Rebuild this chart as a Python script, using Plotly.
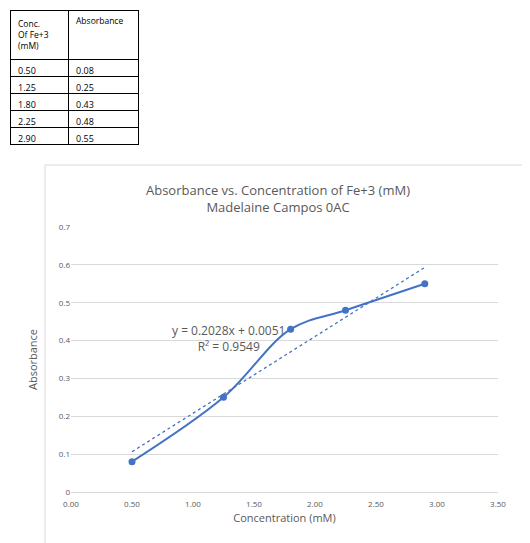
import plotly.graph_objects as go

conc = [0.50, 1.25, 1.80, 2.25, 2.90]
absorb = [0.08, 0.25, 0.43, 0.48, 0.55]
conc_labels = ["0.50", "1.25", "1.80", "2.25", "2.90"]
abs_labels = ["0.08", "0.25", "0.43", "0.48", "0.55"]
slope, intercept = 0.2028, 0.0051

W, H = 530, 543
px_x = lambda p: p / W
px_y = lambda p: 1 - p / H

fig = go.Figure()

fig.add_trace(go.Table(
    domain=dict(x=[px_x(2), px_x(130)], y=[px_y(155), px_y(2)]),
    columnwidth=[58, 70],
    header=dict(values=["Conc.<br>Of Fe+3<br>(mM)", "Absorbance"],
                align="left", height=14, fill_color="white",
                line_color="black", font=dict(size=8.5, color="black")),
    cells=dict(values=[conc_labels, abs_labels], align="left", height=17,
               fill_color="white", line_color="black",
               font=dict(size=9, color="black")),
))

fig.add_trace(go.Scatter(
    x=conc, y=absorb, mode="lines+markers", line_shape="spline",
    line=dict(color="#4472C4", width=2, smoothing=1),
    marker=dict(color="#4472C4", size=7), showlegend=False))

tx = [conc[0], conc[-1]]
fig.add_trace(go.Scatter(
    x=tx, y=[slope * v + intercept for v in tx], mode="lines",
    line=dict(color="#4472C4", width=1.3, dash="dot"), showlegend=False))

grid = "#D9D9D9"
fig.update_xaxes(domain=[px_x(63), px_x(490)], range=[0, 3.5], dtick=0.5,
                 tickformat=".2f", showgrid=False, showline=True,
                 linecolor=grid, ticks="", zeroline=False, automargin=False,
                 ticklabelstandoff=4,
                 tickfont=dict(size=8, color="#595959"),
                 title=dict(text="Concentration (mM)",
                            font=dict(size=11, color="#595959"), standoff=6))
fig.update_yaxes(domain=[px_y(484), px_y(219)], range=[0, 0.7], dtick=0.1,
                 showgrid=True, gridcolor=grid, zeroline=False, ticks="",
                 automargin=False,
                 tickfont=dict(size=8, color="#595959"),
                 title=dict(text="Absorbance",
                            font=dict(size=11, color="#595959"), standoff=18))

fig.update_layout(
    width=W, height=H, margin=dict(l=0, r=0, t=0, b=0),
    plot_bgcolor="white", paper_bgcolor="white",
    font=dict(family="Open Sans, sans-serif"),
    shapes=[dict(type="rect", xref="paper", yref="paper",
                 x0=px_x(37), x1=px_x(522), y0=px_y(538), y1=px_y(157),
                 line=dict(color="#D9D9D9", width=1))],
    annotations=[
        dict(text="Absorbance vs. Concentration of Fe+3 (mM)<br>Madelaine Campos 0AC",
             xref="paper", yref="paper", x=px_x(270), y=px_y(190),
             showarrow=False, font=dict(size=13, color="#595959")),
        dict(text=f"y = {slope}x + {intercept}<br>R² = 0.9549",
             xref="paper", yref="paper", x=px_x(162), y=px_y(330),
             showarrow=False, font=dict(size=12, color="#595959")),
    ],
)

fig.write_html("out.html")
